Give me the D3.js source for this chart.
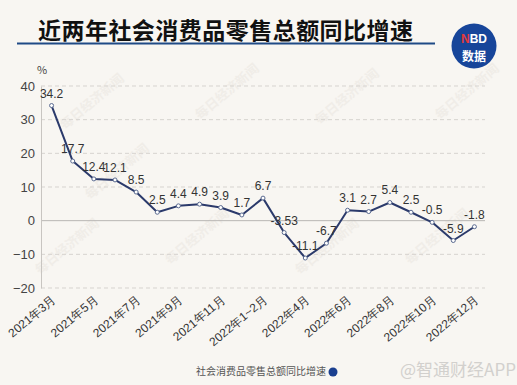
<!DOCTYPE html>
<html><head><meta charset="utf-8">
<script src="https://cdn.jsdelivr.net/npm/d3@7"></script>
<style>
html,body{margin:0;padding:0;background:#f8f6f2;}
svg{display:block;font-family:"Noto Sans CJK SC","Noto Sans",sans-serif;}
</style></head>
<body>
<svg id="chart" width="517" height="385"></svg>
<script>
const categories = ["2021年3月","2021年4月","2021年5月","2021年6月","2021年7月","2021年8月","2021年9月","2021年10月","2021年11月","2021年12月","2022年1~2月","2022年3月","2022年4月","2022年5月","2022年6月","2022年7月","2022年8月","2022年9月","2022年10月","2022年11月","2022年12月"];
const values = [34.2,17.7,12.4,12.1,8.5,2.5,4.4,4.9,3.9,1.7,6.7,-3.53,-11.1,-6.7,3.1,2.7,5.4,2.5,-0.5,-5.9,-1.8];
const xTickLabels = ["2021年3月","2021年5月","2021年7月","2021年9月","2021年11月","2022年1~2月","2022年4月","2022年6月","2022年8月","2022年10月","2022年12月"];
const yTicks = [-20,-10,0,10,20,30,40];
const title = "近两年社会消费品零售总额同比增速";
const legendLabel = "社会消费品零售总额同比增速";

const svg = d3.select("#chart");
const W = 517, H = 385;
svg.append("rect").attr("width",W).attr("height",H).attr("fill","#f8f6f2");

const m = {left:41, right:485, top:86, bottom:288};
const x = d3.scaleBand().domain(categories).range([m.left,m.right]).padding(0);
const cx = c => x(c) + x.bandwidth()/2;
const y = d3.scaleLinear().domain([-20,40]).range([m.bottom,m.top]);

// faint watermarks
const wm = [[95,105],[230,95],[350,100],[470,95],[200,240],[330,250],[440,240],[70,250],[120,175]];
svg.append("g").selectAll("text").data(wm).join("text")
  .attr("transform",d=>`translate(${d[0]},${d[1]}) rotate(-40)`)
  .attr("text-anchor","middle").attr("font-size",13).attr("font-weight","bold")
  .attr("fill","#f0ede8").text("每日经济新闻");

// title
svg.append("text").attr("x",38).attr("y",39).attr("font-size",23).attr("font-weight","bold")
  .attr("fill","#111").attr("textLength",375).text(title);
svg.append("line").attr("x1",17).attr("x2",435).attr("y1",43.5).attr("y2",43.5)
  .attr("stroke","#1f4a86").attr("stroke-width",2.2);

// logo
const logo = svg.append("g").attr("transform","translate(474,46)");
logo.append("circle").attr("r",22.5).attr("fill","#17459a");
const t1 = logo.append("text").attr("y",-3).attr("text-anchor","middle").attr("font-size",12).attr("font-weight","bold").attr("font-family","Arial, Liberation Sans, sans-serif");
t1.append("tspan").attr("fill","#e43a3a").text("N");
t1.append("tspan").attr("fill","#fff").text("BD");
logo.append("text").attr("y",15).attr("text-anchor","middle").attr("font-size",12).attr("font-weight","bold").attr("fill","#fff").text("数据");

// grid
svg.append("g").selectAll("line").data(yTicks.filter(d=>d!==0)).join("line")
  .attr("x1",m.left).attr("x2",m.right).attr("y1",d=>y(d)).attr("y2",d=>y(d))
  .attr("stroke","#d6d3cf").attr("stroke-dasharray","4,3").attr("stroke-width",1);
svg.append("line").attr("x1",m.left).attr("x2",m.right).attr("y1",y(0)).attr("y2",y(0))
  .attr("stroke","#b8b6b3").attr("stroke-width",1);

// y axis
const yAxis = d3.axisLeft(y).tickValues(yTicks).tickSize(0).tickPadding(6);
const ya = svg.append("g").attr("transform",`translate(${m.left},0)`).call(yAxis);
ya.select(".domain").attr("stroke","#c8c5c1");
ya.selectAll("text").attr("font-size",13).attr("fill","#444").attr("font-family","Liberation Sans, Arial, sans-serif");
svg.append("text").attr("x",37).attr("y",74).attr("font-size",11).attr("fill","#444").text("%");

// x axis labels
const xAxis = d3.axisBottom(x).tickValues(xTickLabels).tickSize(0).tickPadding(0);
const xa = svg.append("g").attr("transform",`translate(0,${m.bottom})`).call(xAxis);
xa.select(".domain").remove();
xa.selectAll("text").attr("font-size",12).attr("fill","#333")
  .attr("text-anchor","end").attr("dy",0).attr("y",0)
  .attr("transform","translate(5,13) rotate(-40)");

// line
const line = d3.line().x((d,i)=>cx(categories[i])).y(d=>y(d));
svg.append("path").datum(values).attr("d",line).attr("fill","none")
  .attr("stroke","#2b3a6b").attr("stroke-width",2).attr("stroke-linejoin","round");
svg.append("g").selectAll("circle").data(values).join("circle")
  .attr("cx",(d,i)=>cx(categories[i])).attr("cy",d=>y(d)).attr("r",2)
  .attr("fill","#fff").attr("stroke","#5a6a90").attr("stroke-width",1);

// data labels
svg.append("g").selectAll("text").data(values).join("text")
  .attr("x",(d,i)=>cx(categories[i])).attr("y",d=>y(d)-8)
  .attr("text-anchor","middle").attr("font-size",12).attr("fill","#333")
  .attr("font-family","Liberation Sans, Arial, sans-serif")
  .text(d=>d);

// legend
svg.append("text").attr("x",326).attr("y",375).attr("text-anchor","end").attr("font-size",10).attr("fill","#555").text(legendLabel);
svg.append("circle").attr("cx",333).attr("cy",372).attr("r",4.5).attr("fill","#1a3f8f");

// source watermark
svg.append("text").attr("x",400).attr("y",376).attr("font-size",17).attr("fill","#d2d0cd").text("@智通财经APP");
</script>
</body></html>
